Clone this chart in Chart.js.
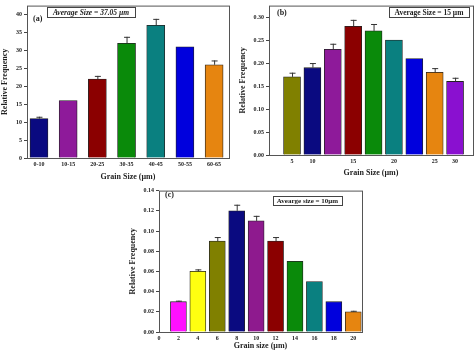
<!DOCTYPE html>
<html>
<head>
<meta charset="utf-8">
<script src="https://cdn.jsdelivr.net/npm/chart.js@4.4.0/dist/chart.umd.min.js"></script>
<style>
body { margin: 0; background: #fff; width: 474px; height: 351px; position: relative; overflow: hidden; }
canvas { position: absolute; }
</style>
</head>
<body>
<canvas id="chartA" width="237" height="182" style="left:0;top:0"></canvas>
<canvas id="chartB" width="237" height="178" style="left:237px;top:0"></canvas>
<canvas id="chartC" width="260" height="166" style="left:110px;top:185px"></canvas>
<script>
// (a) grain size distribution
const aLabels = ['0-10', '10-15', '20-25', '30-35', '40-45', '50-55', '60-65'];
const aValues = [11, 16, 22, 32, 37, 31, 26];
const aErrors = [0.5, 0, 0.9, 1.8, 1.8, 0, 1.2];
const aColors = ['#0a0a80', '#8e1a9a', '#8b0000', '#0a8a0a', '#0a8080', '#0000dd', '#e68510'];

// (b)
const bLabels = ['5', '10', '', '15', '', '20', '', '25', '30'];
const bValues = [0.17, 0.19, 0.23, 0.28, 0.27, 0.25, 0.21, 0.18, 0.16];
const bErrors = [0.009, 0.01, 0.012, 0.014, 0.015, 0, 0, 0.009, 0.008];
const bColors = ['#808000', '#0a0a80', '#8e1a9a', '#8b0000', '#0a8a0a', '#0a8080', '#0000dd', '#e68510', '#8a10d0'];

// (c)
const cSizes = [2, 4, 6, 8, 10, 12, 14, 16, 18, 20];
const cValues = [0.03, 0.06, 0.09, 0.12, 0.11, 0.09, 0.07, 0.05, 0.03, 0.02];
const cErrors = [0.001, 0.002, 0.004, 0.006, 0.005, 0.004, 0, 0, 0, 0.001];
const cColors = ['#ff10ff', '#ffff10', '#808000', '#0a0a80', '#8e1a8e', '#8b0000', '#0a8a0a', '#0a8080', '#0000dd', '#e68510'];

const FONT = 'Liberation Serif';
const INK = '#222';

// box round the plot area
const framePlugin = {
    id: 'frame',
    afterDatasetsDraw(chart) {
        const a = chart.chartArea;
        const ctx = chart.ctx;
        ctx.save();
        ctx.strokeStyle = '#555';
        ctx.lineWidth = 1;
        ctx.strokeRect(a.left + 0.5, a.top + 0.5, a.right - a.left, a.bottom - a.top);
        ctx.restore();
    }
};

// small error bars on top of the bars
const errorBarPlugin = {
    id: 'errorBars',
    afterDatasetsDraw(chart) {
        const ctx = chart.ctx;
        const yScale = chart.scales.y;
        chart.data.datasets.forEach((ds, di) => {
            const meta = chart.getDatasetMeta(di);
            ds.errors.forEach((err, i) => {
                if (!err) return;
                const bar = meta.data[i];
                const v = ds.data[i].y;
                const top = yScale.getPixelForValue(v + err);
                ctx.save();
                ctx.strokeStyle = '#333';
                ctx.lineWidth = 1;
                ctx.beginPath();
                ctx.moveTo(bar.x + 0.5, bar.y);
                ctx.lineTo(bar.x + 0.5, top);
                ctx.moveTo(bar.x - 2.5, top + 0.5);
                ctx.lineTo(bar.x + 3.5, top + 0.5);
                ctx.stroke();
                ctx.restore();
            });
        });
    }
};

// panel letter and the "average size" box
const notePlugin = {
    id: 'notes',
    afterDraw(chart, args, opts) {
        const ctx = chart.ctx;
        ctx.save();
        ctx.fillStyle = INK;
        ctx.textBaseline = 'middle';
        ctx.font = 'bold 8px "' + FONT + '"';
        ctx.fillText(opts.letter, opts.lx, opts.ly);
        ctx.font = (opts.italic ? 'italic ' : '') + 'bold ' + opts.size + 'px "' + FONT + '"';
        ctx.strokeStyle = '#444';
        ctx.lineWidth = 1;
        ctx.strokeRect(opts.bx + 0.5, opts.by + 0.5, opts.bw, opts.bh);
        ctx.textAlign = 'center';
        ctx.fillText(opts.text, opts.bx + opts.bw / 2, opts.by + opts.bh / 2 + 1);
        ctx.restore();
    }
};

function makeChart(id, o) {
    const data = o.values.map((v, i) => ({ x: o.xs[i], y: v }));
    return new Chart(document.getElementById(id), {
        type: 'bar',
        data: {
            datasets: [{
                data: data,
                errors: o.errors,
                backgroundColor: o.colors,
                borderColor: '#222',
                borderWidth: 0.8,
                barThickness: o.barW,
            }]
        },
        options: {
            responsive: false,
            animation: false,
            layout: { padding: { left: o.padL, top: o.padT, right: o.padR, bottom: 0 } },
            plugins: {
                legend: { display: false },
                tooltip: { enabled: false },
                notes: o.notes,
            },
            scales: {
                x: {
                    type: 'linear',
                    offset: false,
                    min: o.xMin,
                    max: o.xMax,
                    grid: { display: false, drawTicks: false },
                    border: { display: false },
                    afterBuildTicks: s => { s.ticks = o.xTicks.map(v => ({ value: v })); },
                    afterFit: s => { s.height = o.xH; },
                    ticks: {
                        autoSkip: false, maxRotation: 0, padding: 3, color: INK,
                        font: { family: FONT, size: 6, weight: 'bold' },
                        callback: o.xFmt,
                    },
                    title: {
                        display: true, text: o.xTitle, color: INK, padding: 0,
                        font: { family: FONT, size: 8, weight: 'bold' },
                    },
                },
                y: {
                    min: 0,
                    max: o.yMax,
                    grid: { drawOnChartArea: false, tickLength: 3, color: '#444' },
                    border: { display: false },
                    afterBuildTicks: s => {
                        s.ticks = s.ticks.filter(t => Math.abs(t.value / o.yStep - Math.round(t.value / o.yStep)) < 1e-6);
                    },
                    afterFit: s => { s.width = o.yW; },
                    ticks: {
                        stepSize: o.yStep, padding: 2, color: INK,
                        font: { family: FONT, size: 6, weight: 'bold' },
                        callback: v => v.toFixed(o.yDec),
                    },
                    title: {
                        display: true, text: 'Relative Frequency', color: INK, padding: 0,
                        font: { family: FONT, size: 8, weight: 'bold' },
                    },
                },
            },
        },
        plugins: [framePlugin, errorBarPlugin, notePlugin],
    });
}

document.addEventListener('DOMContentLoaded', function() {
    const aIdx = aLabels.map((l, i) => i);
    makeChart('chartA', {
        values: aValues, errors: aErrors, colors: aColors, xs: aIdx, barW: 18,
        padL: 0, padT: 1, padR: 8, yW: 27, xH: 24,
        xMin: -0.41, xMax: 6.51, xTicks: aIdx, xFmt: v => aLabels[v],
        yMax: 42.5, yStep: 5, yDec: 0,
        xTitle: 'Grain Size (µm)',
        notes: { letter: '(a)', lx: 33, ly: 19, text: 'Average Size = 37.05 µm', italic: true, size: 7.5, bx: 47, by: 7, bw: 88, bh: 10 },
    });

    const bIdx = bLabels.map((l, i) => i + 1);
    makeChart('chartB', {
        values: bValues, errors: bErrors, colors: bColors, xs: bIdx, barW: 17,
        padL: 1, padT: 2, padR: 1, yW: 31, xH: 23,
        xMin: -0.13, xMax: 9.88, xTicks: bIdx.filter((v, i) => bLabels[i] !== ''), xFmt: v => bLabels[v - 1],
        yMax: 0.325, yStep: 0.05, yDec: 2,
        xTitle: 'Grain Size (µm)',
        notes: { letter: '(b)', lx: 40, ly: 13, text: 'Average Size = 15 µm', italic: false, size: 7.5, bx: 152, by: 7, bw: 80, bh: 10 },
    });

    makeChart('chartC', {
        values: cValues, errors: cErrors, colors: cColors, xs: cSizes, barW: 16,
        padL: 18, padT: 4, padR: 8, yW: 31, xH: 19,
        xMin: 0, xMax: 20.9, xTicks: [0].concat(cSizes), xFmt: v => String(v),
        yMax: 0.14, yStep: 0.02, yDec: 2,
        xTitle: 'Grain size (µm)',
        notes: { letter: '(c)', lx: 55, ly: 10, text: 'Avearge size = 10µm', italic: false, size: 7, bx: 163, by: 11, bw: 69, bh: 9 },
    });
});
</script>
</body>
</html>
